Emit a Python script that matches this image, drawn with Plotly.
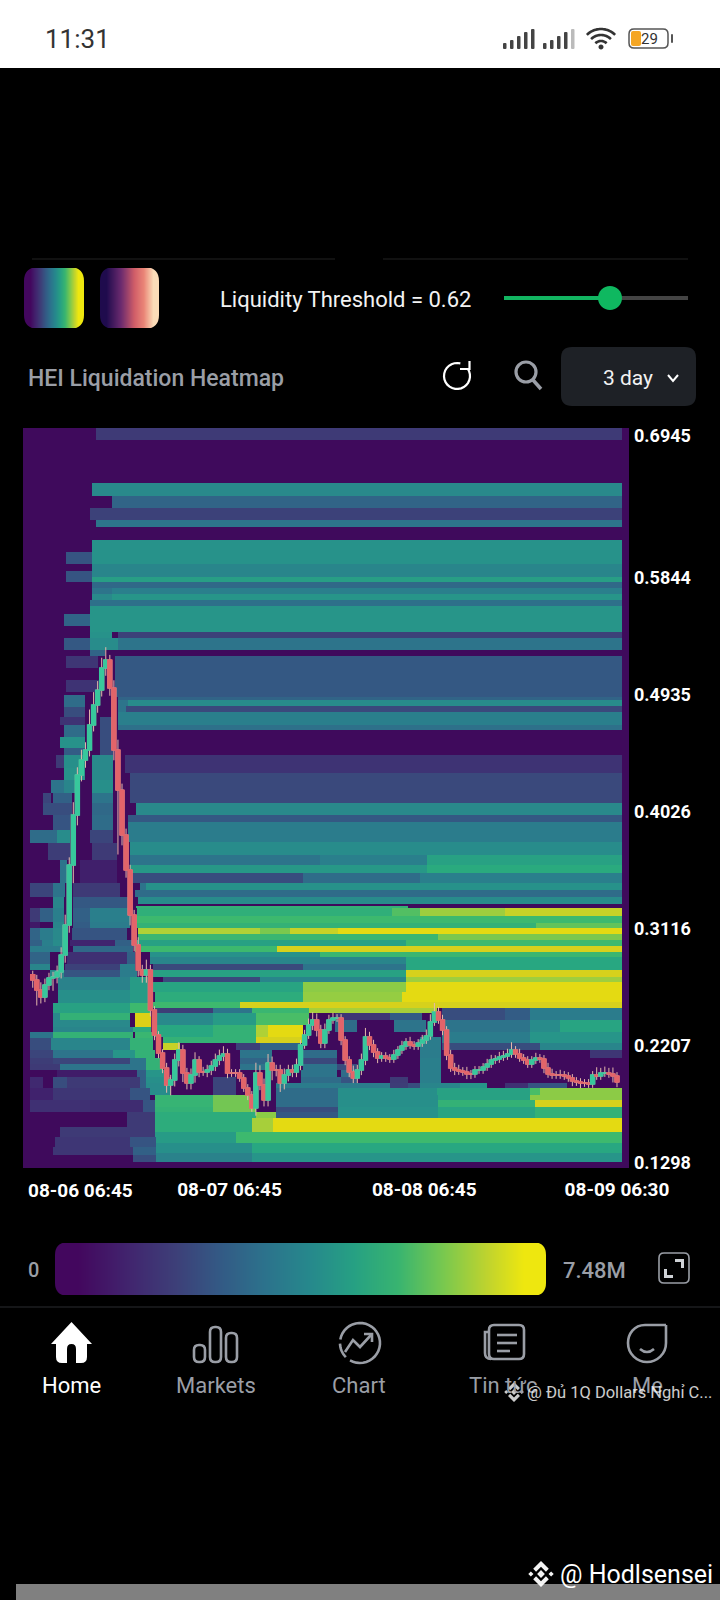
import math
import pandas as pd
import plotly.graph_objects as go

# ---------- data ----------
symbol_title = "HEI Liquidation Heatmap"
threshold_label = "Liquidity Threshold = 0.62"
legend_min = "0"
legend_max = "7.48M"
nav_labels = ["Home", "Markets", "Chart", "Tin tức", "Me"]
price_ticks = [0.6945, 0.5844, 0.4935, 0.4026, 0.3116, 0.2207, 0.1298]
price_labels = ["0.6945", "0.5844", "0.4935", "0.4026", "0.3116", "0.2207", "0.1298"]
time_ticks = ["2025-08-07 06:45", "2025-08-08 06:45", "2025-08-09 06:30"]
time_labels = ["08-07 06:45", "08-08 06:45", "08-09 06:30"]
first_time_label = "08-06 06:45"
start_time = "2025-08-06 06:30"

closes = [.2718,.2640,.2586,.2679,.2734,.2742,.2780,.2912,.3145,.3610,
 .3998,.4309,.4425,.4503,.4697,.4852,.4968,.5139,.5201,.4984,
 .4503,.4192,.3843,.3572,.3222,.2990,.2796,.2757,.2796,.2485,
 .2291,.2151,.2035,.1903,.1942,.2097,.2175,.1996,.1919,.1981,
 .2097,.2004,.2004,.2020,.2051,.2097,.2128,.2144,.1996,.1996,
 .1996,.1958,.1880,.1826,.1725,.1996,.1903,.1787,.2074,.2020,
 .2020,.1919,.1981,.2020,.2004,.2058,.2214,.2291,.2369,.2408,
 .2330,.2229,.2330,.2408,.2423,.2423,.2252,.2097,.2004,.1958,
 .2020,.2097,.2276,.2214,.2159,.2113,.2128,.2113,.2105,.2136,
 .2175,.2206,.2237,.2214,.2206,.2229,.2252,.2284,.2392,.2470,
 .2408,.2330,.2136,.2035,.2020,.2012,.2004,.1989,.1989,.2020,
 .2020,.2043,.2066,.2097,.2105,.2120,.2128,.2144,.2175,.2144,
 .2113,.2097,.2066,.2097,.2113,.2105,.2035,.1989,.1981,.1981,
 .1981,.1973,.1958,.1934,.1926,.1919,.1919,.1911,.1981,.1973,
 .1996,.1996,.1989,.1973,.1926]
wick_up = [.003,.004,.006,.005,.004,.004,.005,.006,.008,.006,
 .010,.006,.008,.006,.012,.010,.007,.008,.010,.004,
 .006,.008,.005,.005,.004,.004,.006,.004,.008,.004,
 .003,.003,.003,.004,.004,.005,.006,.004,.004,.005,
 .006,.003,.004,.004,.004,.005,.005,.006,.004,.003,
 .003,.003,.003,.003,.003,.008,.006,.005,.007,.005,
 .004,.004,.005,.004,.004,.005,.004,.004,.005,.006,
 .005,.004,.005,.004,.004,.003,.003,.003,.003,.005,
 .004,.005,.007,.004,.004,.003,.003,.003,.003,.004,
 .003,.004,.003,.004,.003,.003,.004,.005,.006,.007,
 .004,.004,.003,.004,.004,.004,.003,.004,.003,.003,
 .003,.003,.004,.004,.003,.004,.004,.004,.006,.003,
 .004,.003,.003,.003,.004,.003,.003,.004,.004,.003,
 .004,.003,.003,.003,.003,.003,.003,.003,.003,.006,
 .004,.005,.004,.005,.003]
wick_dn = [.006,.012,.005,.004,.004,.010,.005,.005,.006,.006,
 .014,.008,.005,.006,.005,.005,.006,.005,.006,.006,
 .008,.050,.008,.006,.008,.005,.005,.006,.006,.005,
 .004,.004,.004,.006,.008,.005,.005,.007,.005,.005,
 .006,.004,.003,.004,.004,.004,.004,.004,.004,.003,
 .003,.003,.003,.004,.003,.006,.004,.005,.005,.008,
 .005,.007,.005,.005,.004,.004,.004,.003,.003,.004,
 .005,.004,.004,.003,.003,.003,.004,.004,.004,.004,
 .004,.004,.004,.004,.004,.004,.003,.003,.003,.003,
 .003,.003,.003,.003,.003,.003,.003,.003,.003,.003,
 .003,.004,.004,.003,.004,.003,.003,.004,.004,.003,
 .003,.003,.003,.003,.003,.003,.003,.003,.003,.003,
 .003,.003,.003,.003,.003,.003,.004,.003,.003,.003,
 .003,.003,.003,.004,.003,.004,.003,.003,.003,.003,
 .003,.003,.003,.005,.004]

# liquidity bands: (price high, price low, [(from hour, to hour, value in millions), ...])
bands_main = [
 (.7002,.6908,[(7.8,72.6,1.5)]),
 (.6575,.6474,[(7.3,72.6,3.6)]),
 (.6474,.6381,[(9.8,72.6,2.6)]),
 (.6381,.6288,[(7.1,72.6,1.7)]),
 (.6288,.6233,[(7.8,72.6,3.0)]),
 (.6132,.5946,[(7.3,72.6,3.9)]),
 (.5946,.5845,[(7.3,72.6,3.5)]),
 (.5845,.5807,[(7.3,72.6,4.3)]),
 (.5807,.5760,[(7.3,72.6,2.7)]),
 (.5760,.5714,[(7.3,9.8,3.0),(9.8,72.6,3.3)]),
 (.5714,.5667,[(7.3,9.8,3.6),(9.8,72.6,4.0)]),
 (.5667,.5620,[(7.1,72.6,2.9)]),
 (.5620,.5419,[(7.1,72.6,4.0)]),
 (.5419,.5372,[(7.1,9.8,3.9),(10.5,72.6,1.7)]),
 (.5372,.5279,[(7.1,10.5,3.7),(10.5,72.6,3.0)]),
 (.5279,.5232,[(7.1,8.9,2.6)]),
 (.5232,.4914,[(10.1,72.6,2.3)]),
 (.4914,.4891,[(10.5,72.6,2.6)]),
 (.4891,.4844,[(10.5,11.7,3.0),(11.7,72.6,3.7)]),
 (.4844,.4798,[(10.5,11.5,3.0),(11.5,72.6,1.9)]),
 (.4798,.4697,[(10.5,72.6,3.3)]),
 (.4697,.4658,[(10.5,72.6,2.9)]),
 (.4464,.4324,[(11.4,72.6,1.3)]),
 (.4324,.4092,[(12,72.6,1.9)]),
 (.4092,.3998,[(12.7,72.6,3.6)]),
 (.3998,.3944,[(11.7,72.6,2.3)]),
 (.3944,.3789,[(11.7,72.6,3.2)]),
 (.3789,.3688,[(12,72.6,3.7)]),
 (.3688,.3610,[(12,35.4,3.0),(35.4,48.6,3.3),(48.6,72.6,4.4)]),
 (.3610,.3548,[(12,48.6,4.1),(48.6,72.6,4.7)]),
 (.3548,.3471,[(12.4,33.3,2.0),(33.3,47.7,2.8),(47.7,72.6,3.3)]),
 (.3471,.3416,[(13.2,14,3.0),(14,72.6,3.9)]),
 (.3416,.3362,[(12.6,72.6,2.8)]),
 (.3362,.3308,[(13,72.6,3.7)]),
 (.3292,.3277,[(12.7,46.3,5.0)]),
 (.3277,.3215,[(12.9,44.3,4.9),(44.3,47.7,5.6),(47.7,58.2,6.5),(58.2,72.6,7.0)]),
 (.3215,.3161,[(12.9,72.6,5.3)]),
 (.3161,.3122,[(12.9,62,5.0),(62,72.6,5.8)]),
 (.3122,.3075,[(13,28,6.7),(28,31.7,6.1),(31.7,37.6,7.0),(37.6,72.6,7.4)]),
 (.3075,.3028,[(13,50,5.2),(50,72.6,6.1)]),
 (.3028,.2982,[(12.9,46,4.4),(46,72.6,5.3)]),
 (.2982,.2935,[(12.6,30.1,5.3),(30.1,72.6,7.2)]),
 (.2935,.2897,[(14.5,35.4,3.9),(35.4,72.6,5.2)]),
 (.2897,.2842,[(14.5,46,3.5),(46,72.6,4.6)]),
 (.2842,.2796,[(14.8,33.3,1.9),(33.3,46,3.0),(46,72.6,4.6)]),
 (.2796,.2741,[(14.5,46,4.4),(46,72.6,7.2)]),
 (.2741,.2702,[(16.1,28,1.9),(28,46,3.5),(46,72.6,6.5)]),
 (.2702,.2625,[(14.8,33.3,4.5),(33.3,46,6.3),(46,72.6,7.4)]),
 (.2625,.2547,[(15.1,33.3,4.8),(33.3,45.5,6.4),(45.5,72.6,7.4)]),
 (.2547,.2501,[(14.8,25.5,5.3),(25.5,72.6,7.2)]),
 (.2501,.2462,[(15.1,22.2,1.6),(22.2,27,3.0),(27,34,5.2),(34,49.8,6.6),(50.4,58.2,2.0),(58.2,61.3,2.4),(61.3,72.6,3.2)]),
 (.2462,.2408,[(15.1,22.2,3.6),(22.2,27.5,4.2),(27.5,34,5.5),(37.3,44,1.4),(44,48,2.4),(50.4,58.2,2.0),(58.2,61.3,2.4),(61.3,72.6,3.2)]),
 (.2408,.2369,[(15.1,22.2,3.6),(22.2,27.5,4.2),(27.5,34,5.5),(37.3,40,2.8),(44.5,48.5,3.0),(50.4,61.3,3.0),(61.3,65,3.7),(65,72.6,4.5)]),
 (.2369,.2315,[(15.1,22.2,4.6),(22.2,27.5,5.0),(27.5,29,6.7),(29,33.3,7.4),(37.3,40,2.8),(44.5,48.5,3.0),(50.4,61.3,3.0),(61.3,65,3.7),(65,72.6,4.5)]),
 (.2315,.2276,[(15.1,22.2,4.6),(22.2,27.5,5.0),(27.5,29,6.7),(29,33.3,7.4),(50.4,61.3,3.2),(61.3,72.6,4.0)]),
 (.2276,.2229,[(16,27.5,5.0),(27.5,33.3,7.2),(47.7,50.3,3.2),(50.4,61.3,3.2),(61.3,72.6,4.0)]),
 (.2229,.2175,[(16.1,18.2,7.0),(25,28,1.7),(28,33,2.6),(47.7,50.3,3.2),(50.4,62.5,2.0),(62.5,72.6,3.5)]),
 (.2175,.2113,[(25.5,29.5,3.0),(33.3,37.5,2.8),(47.7,50.3,3.2),(68.7,72.6,1.4)]),
 (.2113,.2066,[(13.9,16,5.0),(25.5,29.5,2.6),(33.3,37.5,1.9),(47.7,50.3,3.3)]),
 (.2066,.2020,[(13.9,16,5.0),(25.5,29,3.0),(33.3,37.5,3.0),(37.5,40,2.0),(47.7,50.3,3.3)]),
 (.2020,.1965,[(13.9,16.7,4.0),(33,37.5,3.0),(38,40,2.8),(47.7,50.3,3.3)]),
 (.1965,.1919,[(13.9,17,3.8),(22.2,25,1.8),(33,38,2.8),(38,40,2.2),(44,46.3,1.5),(47.7,50.3,3.3)]),
 (.1919,.1880,[(13.9,17,3.7),(22.2,25,1.8),(30,44,3.2),(44,46.3,1.6),(46.3,47.7,2.0),(47.7,52.6,3.5),(52.6,56,4.0),(58.2,61,1.2),(61,65.8,2.2)]),
 (.1880,.1826,[(13.9,17,3.7),(22.2,25,1.8),(30,37.6,2.8),(37.6,49.8,3.8),(49.8,61.3,4.4),(61.3,62.5,5.5),(62.5,72.6,6.3)]),
 (.1826,.1787,[(15.1,22.2,5.1),(22.2,27.5,6.0),(30,37.6,2.8),(37.6,50,3.8),(50,61.3,4.4),(61.3,72.6,6.3)]),
 (.1787,.1733,[(15.1,22.2,5.1),(22.2,27.5,6.0),(30,37.6,2.8),(37.6,50,3.8),(50,61.9,5.0),(61.9,72.6,7.2)]),
 (.1733,.1694,[(15.1,22.2,5.0),(22.2,27.5,6.0),(30,37.6,2.0),(37.6,50,3.9),(50,61.9,4.5),(61.9,72.6,5.0)]),
 (.1694,.1647,[(15.1,27.5,4.8),(27.5,30,6.3),(30,37.6,2.3),(37.6,50,3.9),(50,61.9,4.5),(61.9,72.6,5.0)]),
 (.1647,.1539,[(15.1,27,4.8),(27,29.6,6.6),(29.6,72.6,7.4)]),
 (.1539,.1453,[(15,25,4.2),(25,72.6,5.3)]),
 (.1453,.1376,[(15,27,3.8),(27,72.6,4.6)]),
 (.1376,.1306,[(15,27,3.4),(27,72.6,4.0)]),
]
bands_left = [
 (.6039,.5946,[(4.1,7.3,2.2)]),
 (.5892,.5807,[(4.1,7.3,2.2)]),
 (.5558,.5465,[(3.9,7.1,2.6)]),
 (.5372,.5279,[(3.9,7.1,2.3)]),
 (.5232,.5139,[(4.1,8.0,1.4)]),
 (.5046,.4953,[(4.1,8.3,1.3)]),
 (.4929,.4836,[(3.9,6.4,2.8)]),
 (.4836,.4759,[(3.9,6.4,2.0)]),
 (.4759,.4697,[(3.4,6.4,1.3),(8.3,9.9,2.0)]),
 (.4697,.4604,[(3.9,6.4,2.8),(8.3,9.9,2.0)]),
 (.4604,.4518,[(3.4,6.4,3.9),(8.3,9.9,2.0)]),
 (.4518,.4464,[(3.9,6.4,2.4),(8.3,9.9,2.0)]),
 (.4464,.4363,[(2.9,3.9,1.5),(3.9,6.4,3.8),(7.3,9.9,3.6)]),
 (.4363,.4270,[(3.9,6.4,3.9),(7.3,9.9,3.6)]),
 (.4270,.4169,[(2.3,3.8,3.0),(3.8,5.6,3.5),(7.3,9.9,3.8)]),
 (.4169,.4092,[(1.3,2.3,1.8),(2.5,4.8,2.5),(7.3,9.9,3.0)]),
 (.4092,.3998,[(1.3,4.8,2.0),(7.3,9.9,2.7)]),
 (.3998,.3882,[(2.5,4.6,2.2),(7.3,9.9,2.8)]),
 (.3882,.3781,[(-.3,3,2.8),(3,4.6,3.7),(7.1,9.9,1.8)]),
 (.3781,.3649,[(1.9,4.6,1.6),(7.3,10.4,1.5)]),
 (.3649,.3471,[(3.4,4.2,3.0),(5.8,10.4,.7)]),
 (.3471,.3362,[(-.3,2.5,1.8),(2.5,4,3.0),(5,10.7,1.5)]),
 (.3362,.3277,[(2.5,3.8,3.5),(5,12,2.3)]),
 (.3277,.3168,[(-.3,.9,1.5),(.9,2.5,2.5),(2.5,3.8,3.3),(5,7.1,2.5),(7.1,12,3.3)]),
 (.3168,.3122,[(-.3,.9,.5),(2.5,3.8,3.5),(5,7.1,2.4),(7.1,12,3.2)]),
 (.3122,.3028,[(-.3,.9,2.6),(.9,2.5,3.2),(2.5,3.8,3.6),(4.8,11.6,2.2)]),
 (.3028,.2982,[(-.3,1.1,2.5),(1.1,2.5,3.3),(2.5,3.8,3.7),(4.6,10.1,.9),(10.1,12.4,2.5)]),
 (.2982,.2935,[(-.3,3.8,3.2),(5,12.4,2.7)]),
 (.2935,.2842,[(-.3,2.1,2.6),(4.2,11.6,1.2),(11.6,12.6,2.5)]),
 (.2842,.2796,[(-.3,2.1,3.5),(4,10.7,1.7),(10.7,12.6,3.3)]),
 (.2796,.2741,[(2.1,3.8,3.5),(3.8,10.7,2.2),(10.7,12.8,3.2)]),
 (.2741,.2640,[(3.1,12,3.4),(12,14.8,4.2)]),
 (.2640,.2539,[(3.1,12,3.8),(12,14.8,4.2)]),
 (.2539,.2462,[(2.5,12,4.4),(12,14.4,5.3)]),
 (.2462,.2408,[(2.5,3.4,3.6),(3.4,12,5.0),(12.6,14.6,7.3)]),
 (.2408,.2353,[(2.5,12,3.6),(12.6,14.6,7.3)]),
 (.2353,.2315,[(2.5,12.4,3.5),(12.4,14.6,4.8)]),
 (.2315,.2268,[(-.3,2.5,3.0),(2.5,12.4,5.0),(12.6,14.8,5.2)]),
 (.2268,.2175,[(-.3,2.3,2.0),(2.3,12,3.5),(12,14.8,5.0)]),
 (.2175,.2113,[(-.3,2.5,1.8),(2.5,9.9,3.0),(9.9,12.6,4.0),(12.6,15.1,5.0)]),
 (.2113,.2066,[(-.3,2.5,1.6),(2.5,12,1.8),(12,13.9,3.0)]),
 (.2066,.2020,[(-.3,3.4,1.5),(3.4,12.8,3.0),(12.8,14,3.0)]),
 (.2020,.1965,[(3,12.8,.6),(12.8,14,2.5)]),
 (.1965,.1880,[(-.3,1.3,1.0),(2.5,4.2,2.0),(4.2,13.2,1.5),(13.2,14,2.5)]),
 (.1880,.1787,[(-.3,2.5,.8),(2.5,12,1.4),(12,14.4,2.2)]),
 (.1787,.1694,[(-.3,7,1.2),(7,13.6,1.1),(13.6,15.1,2.2)]),
 (.1694,.1577,[(11.6,15.1,1.5)]),
 (.1577,.1500,[(3.4,15.1,1.5)]),
 (.1500,.1422,[(2.7,12,1.4),(12,15.2,2.2)]),
 (.1422,.1360,[(2.5,12.4,1.4),(12.4,15.2,2.5)]),
 (.1360,.1306,[(12.4,15.2,2.0)]),
]
legend_values = [0, 0.75, 1.5, 2.25, 3.0, 3.75, 4.5, 5.25, 6.0, 6.75, 7.48]
swatch_values = [0, .25, .5, .75, 1]

# ---------- styles ----------
VIR = [[0,'#3f0a5c'],[.12,'#40256f'],[.22,'#3d3f78'],[.32,'#335c85'],[.42,'#2b7a8c'],[.52,'#27928a'],
       [.62,'#28a880'],[.72,'#40bb6c'],[.82,'#7ec94d'],[.92,'#bfd32e'],[.98,'#dfd014'],[1,'#eae610']]
BAR = [[0,'#43075e'],[.12,'#41266f'],[.22,'#3d3f78'],[.32,'#335a85'],[.42,'#2c728c'],[.52,'#26888c'],
       [.62,'#26a083'],[.72,'#38b470'],[.82,'#78c84f'],[.92,'#bfd32e'],[1,'#eee70f']]
ROSE = [[0,'#1f0b4d'],[.3,'#6a2a6e'],[.6,'#d05d68'],[.8,'#ea8577'],[1,'#fbdcb8']]
GREY = '#9a9ea6'
FONT = 'Roboto'

# ---------- build heatmap grid ----------
bands = bands_main + bands_left
ys = sorted({round(v, 4) for b in bands for v in b[:2]} | {.1259, .7002})
hs = sorted({round(s[i], 2) for b in bands for s in b[2] for i in (0, 1)} | {-1.2, 73.48})
z = [[0.0] * (len(hs) - 1) for _ in range(len(ys) - 1)]
for hi, lo, segs in bands:
    for a, b, v in segs:
        for r in range(ys.index(round(lo, 4)), ys.index(round(hi, 4))):
            for c in range(hs.index(round(a, 2)), hs.index(round(b, 2))):
                z[r][c] = v
t0 = pd.Timestamp(start_time)
to_time = lambda h: (t0 + pd.Timedelta(hours=h)).strftime('%Y-%m-%d %H:%M:%S')
heat_x = [to_time(h) for h in hs]
cand_x = [to_time(i * .5) for i in range(len(closes))]
opens = [.2760] + closes[:-1]
highs = [max(o, c) + w for o, c, w in zip(opens, closes, wick_up)]
lows = [min(o, c) - w for o, c, w in zip(opens, closes, wick_dn)]
body_hi = [max(o, c) for o, c in zip(opens, closes)]
body_lo = [min(o, c) for o, c in zip(opens, closes)]

fig = go.Figure()
fig.add_trace(go.Heatmap(x=heat_x, y=ys, z=z, zmin=0, zmax=7.48, colorscale=VIR, showscale=False,
                         hoverinfo='skip'))
# pale wicks under solid candle bodies
fig.add_trace(go.Candlestick(x=cand_x, open=opens, high=highs, low=lows, close=closes,
                             increasing=dict(line=dict(color='#e4b9ab', width=1), fillcolor='#e4b9ab'),
                             decreasing=dict(line=dict(color='#e4b9ab', width=1), fillcolor='#e4b9ab'),
                             whiskerwidth=0, showlegend=False))
fig.add_trace(go.Candlestick(x=cand_x, open=opens, high=body_hi, low=body_lo, close=closes,
                             increasing=dict(line=dict(color='#38c79c', width=1.4), fillcolor='#38c79c'),
                             decreasing=dict(line=dict(color='#e2646a', width=1.4), fillcolor='#e2646a'),
                             whiskerwidth=0, showlegend=False))
# pixel overlay for the app chrome
fig.add_trace(go.Scatter(x=[0], y=[0], xaxis='x2', yaxis='y2', mode='markers', marker=dict(opacity=0),
                         showlegend=False, hoverinfo='skip'))
# legend bar and swatches
fig.add_trace(go.Heatmap(z=[legend_values], zmin=0, zmax=7.48, colorscale=BAR, showscale=False, zsmooth='best',
                         xaxis='x3', yaxis='y3', hoverinfo='skip'))
fig.add_trace(go.Heatmap(z=[swatch_values], zmin=0, zmax=1, colorscale=BAR, showscale=False, zsmooth='best',
                         xaxis='x4', yaxis='y4', hoverinfo='skip'))
fig.add_trace(go.Heatmap(z=[swatch_values], zmin=0, zmax=1, colorscale=ROSE, showscale=False, zsmooth='best',
                         xaxis='x5', yaxis='y5', hoverinfo='skip'))

W, H = 720, 1600
shapes, notes = [], []
def dom_x(a, b): return [a / W, b / W]
def dom_y(a, b): return [1 - b / H, 1 - a / H]
def shp(path, fill=None, line=None, width=0, opacity=1):
    shapes.append(dict(type='path', path=path, xref='x2', yref='y2', layer='above', opacity=opacity,
                       fillcolor=fill or 'rgba(0,0,0,0)',
                       line=dict(color=line or 'rgba(0,0,0,0)', width=width)))
def txt(x, y, s, size, color='#fff', anchor='center', weight=400, opacity=1):
    notes.append(dict(x=x, y=y, xref='x2', yref='y2', text=s, showarrow=False, xanchor=anchor, yanchor='middle',
                      opacity=opacity, font=dict(family=FONT, size=size, color=color, weight=weight)))
def rr(x0, y0, x1, y1, r):
    return (f'M{x0+r} {y0} H{x1-r} Q{x1} {y0} {x1} {y0+r} V{y1-r} Q{x1} {y1} {x1-r} {y1} '
            f'H{x0+r} Q{x0} {y1} {x0} {y1-r} V{y0+r} Q{x0} {y0} {x0+r} {y0} Z')
def circ(cx, cy, r):
    k = .5523 * r
    return (f'M{cx-r} {cy} C{cx-r} {cy-k} {cx-k} {cy-r} {cx} {cy-r} C{cx+k} {cy-r} {cx+r} {cy-k} {cx+r} {cy} '
            f'C{cx+r} {cy+k} {cx+k} {cy+r} {cx} {cy+r} C{cx-k} {cy+r} {cx-r} {cy+k} {cx-r} {cy} Z')
def arc(cx, cy, r, a0, a1, n=24):
    pts = [(cx + r * math.cos(math.radians(a0 + (a1 - a0) * i / n)),
            cy + r * math.sin(math.radians(a0 + (a1 - a0) * i / n))) for i in range(n + 1)]
    return 'M' + ' L'.join(f'{x:.2f} {y:.2f}' for x, y in pts)
def corners(x0, y0, x1, y1, r):
    for p in (f'M{x0-1} {y0-1} H{x0+r} Q{x0} {y0} {x0} {y0+r} V{y0-1} Z',
              f'M{x1+1} {y0-1} H{x1-r} Q{x1} {y0} {x1} {y0+r} V{y0-1} Z',
              f'M{x0-1} {y1+1} H{x0+r} Q{x0} {y1} {x0} {y1-r} V{y1+1} Z',
              f'M{x1+1} {y1+1} H{x1-r} Q{x1} {y1} {x1} {y1-r} V{y1+1} Z'):
        shp(p, fill='#000')
def logo(cx, cy, s, color='#fff', opacity=1):
    d = lambda x, y, k: f'M{x-k} {y} L{x} {y-k} L{x+k} {y} L{x} {y+k} Z '
    chev = lambda sign: (f'M{cx} {cy+sign*s} L{cx+s*.6} {cy+sign*s*.4} L{cx+s*.38} {cy+sign*s*.18} L{cx} {cy+sign*s*.56} '
                         f'L{cx-s*.38} {cy+sign*s*.18} L{cx-s*.6} {cy+sign*s*.4} Z ')
    p = d(cx, cy, s * .3) + chev(-1) + chev(1) + d(cx - s * .78, cy, s * .2) + d(cx + s * .78, cy, s * .2)
    shp(p, fill=color, opacity=opacity)

# status bar
shp(f'M0 0 H720 V68 H0 Z', fill='#fff')
txt(77, 39, '11:31', 26, '#333')
for start, last in ((503, '#444'), (543, '#bbb')):
    for i, h in enumerate((6, 9, 13, 17, 20)):
        x = start + i * 7
        shp(rr(x, 49 - h, x + 3.5, 49, 1), fill=last if i == 4 else '#444')
for r in (8, 14, 20):
    shp(arc(601, 49, r, -135, -45), line='#333', width=2.6)
shp(circ(601, 47, 2.5), fill='#333')
shp(rr(629, 29, 668, 48, 5), line='#555', width=1.5)
shp(rr(631, 31, 641, 46, 2), fill='#f5a623')
shp(rr(671, 34, 673, 43, 1), fill='#555')
txt(649, 39, '29', 15, '#333')

# header controls
shp('M32 259 H335', line='#222', width=1)
shp('M383 259 H688', line='#222', width=1)
corners(24, 268, 84, 328, 13)
corners(100, 268, 159, 328, 13)
txt(345.5, 299, threshold_label, 22, '#f2f2f2')
shp('M504 298 H688', line='#444', width=4)
shp('M504 298 H610', line='#12b561', width=4)
shp(circ(610, 298, 12), fill='#0fb860')
txt(26, 378, symbol_title, 23, GREY, 'left', 500)
shp(arc(457, 376, 13, -35, 285), line='#fff', width=2.2)
shp('M460 369 H469.5 V361', line='#fff', width=2.2)
shp(circ(526, 372, 10), line=GREY, width=3.2)
shp('M533 380 L541 389', line=GREY, width=3.5)
shp(rr(561, 347, 696, 406, 11), fill='#1e2126')
txt(628, 378, '3 day', 21, '#f2f2f2')
shp('M668 375 L673 381 L678 375', line='#fff', width=2)

# first time label sits clear of the left edge
txt(80, 1190, first_time_label, 19, '#fff', 'center', 700)

# legend row
txt(33, 1270, legend_min, 20, GREY, 'center', 500)
txt(594, 1270, legend_max, 22, GREY, 'center', 500)
corners(55, 1243, 546, 1295, 12)
shp(rr(659, 1253, 689, 1283, 5), line=GREY, width=1.6)
shp('M675 1259 H684 V1268 H681 V1262 H675 Z', fill='#cfd2d6')
shp('M664 1269 V1278 H673 V1275 H667 V1269 Z', fill='#cfd2d6')
shp('M0 1307 H720', line='#2a2c31', width=1)

# bottom nav
shp('M71.5 1322 L92 1344 H87 V1357 Q87 1363 81 1363 H76 V1349 Q76 1344 71.5 1344 Q67 1344 67 1349 V1363 H62 Q56 1363 56 1357 V1344 H51 Z', fill='#fff')
for x0, x1, y0 in ((194, 205, 1345), (210, 221, 1327), (226, 237, 1333)):
    shp(rr(x0, y0, x1, 1362, 5), line=GREY, width=2.6)
shp(arc(360, 1343, 20, -170, 120, 30), line=GREY, width=2.6)
shp(arc(360, 1343, 20, 135, 178, 8), line=GREY, width=2.6)
shp('M345 1352 L353 1340 L360 1347 L371 1335', line=GREY, width=2.6)
shp('M364 1334 H372 V1342', line=GREY, width=2.6)
shp(rr(489, 1325, 524, 1359, 5), line=GREY, width=2.6)
shp('M489 1332 H485 V1353 Q485 1359 491 1359', line=GREY, width=2.6)
for y, x1 in ((1335, 517), (1343, 517), (1351, 510)):
    shp(f'M497 {y} H{x1}', line=GREY, width=2.6)
shp('M666 1325 H645 C634 1325 628 1334 628 1343 C628 1354 637 1362 647 1362 C657 1362 666 1354 666 1343 V1325', line=GREY, width=2.6)
shp('M640 1349 Q647 1355 654 1349', line=GREY, width=2.6)
for x, s, c in zip((71.5, 216, 359, 503, 647), nav_labels, ('#fff', GREY, GREY, GREY, GREY)):
    txt(x, 1385, s, 22, c)

# watermarks
logo(514, 1392, 10, '#fff', .8)
txt(525, 1392, '@ Đủ 1Q Dollars Nghỉ C...', 16.5, '#fff', 'left', 400, .8)
shp('M16 1584 H720 V1600 H16 Z', fill='#808080')
logo(541, 1574, 13, '#fff', .95)
txt(558, 1574, '@ Hodlsensei', 25, '#fff', 'left')

hidden = dict(visible=False, showgrid=False, zeroline=False, fixedrange=True)
fig.update_layout(
    width=W, height=H, margin=dict(l=0, r=0, t=0, b=0, autoexpand=False),
    paper_bgcolor='#000', plot_bgcolor='rgba(0,0,0,0)', showlegend=False, boxgap=0, boxgroupgap=0,
    hovermode=False, shapes=shapes, annotations=notes,
    xaxis=dict(domain=dom_x(23, 629), anchor='y', type='date', rangeslider=dict(visible=False),
               range=[to_time(-1.2), to_time(73.48)], tickmode='array', tickvals=time_ticks, ticktext=time_labels,
               showgrid=False, zeroline=False, showline=False, ticks='', ticklabelstandoff=8,
               tickfont=dict(family=FONT, size=19, color='#fff', weight=700), automargin=False),
    yaxis=dict(domain=dom_y(428, 1168), anchor='x', side='right', range=[.1259, .7002], tickmode='array',
               tickvals=price_ticks, ticktext=price_labels, showgrid=False, zeroline=False, showline=False, ticks='',
               ticklabelstandoff=4, tickfont=dict(family=FONT, size=18, color='#fff', weight=700), automargin=False),
    xaxis2=dict(domain=[0, 1], range=[0, W], anchor='y2', **hidden),
    yaxis2=dict(domain=[0, 1], range=[H, 0], anchor='x2', **hidden),
    xaxis3=dict(domain=dom_x(55, 546), anchor='y3', **hidden),
    yaxis3=dict(domain=dom_y(1243, 1295), anchor='x3', **hidden),
    xaxis4=dict(domain=dom_x(24, 84), anchor='y4', **hidden),
    yaxis4=dict(domain=dom_y(268, 328), anchor='x4', **hidden),
    xaxis5=dict(domain=dom_x(100, 159), anchor='y5', **hidden),
    yaxis5=dict(domain=dom_y(268, 328), anchor='x5', **hidden),
)
fig.write_html("out.html", config=dict(displayModeBar=False),
               post_script="document.body.style.margin='0';document.documentElement.style.background='#000';")
